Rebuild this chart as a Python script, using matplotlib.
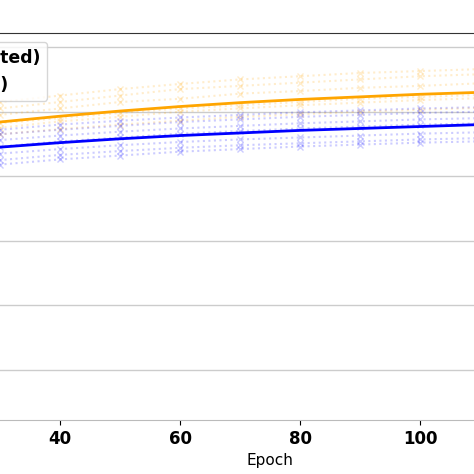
import matplotlib
matplotlib.use("Agg")
import matplotlib.pyplot as plt

epochs = [0, 10, 20, 30, 40, 50, 60, 70, 80, 90, 100, 110, 120, 130]
pred_mean = [0.845, 0.862, 0.875, 0.884, 0.893, 0.901, 0.908, 0.914, 0.919, 0.923, 0.927, 0.930, 0.932, 0.934]
act_mean = [0.800, 0.820, 0.835, 0.845, 0.852, 0.858, 0.863, 0.867, 0.871, 0.874, 0.877, 0.880, 0.882, 0.884]
pred_runs = [
    [0.86, 0.88, 0.895, 0.905, 0.915, 0.925, 0.935, 0.94, 0.945, 0.95, 0.955, 0.958, 0.96, 0.962],
    [0.85, 0.87, 0.885, 0.895, 0.905, 0.915, 0.92, 0.928, 0.932, 0.937, 0.94, 0.944, 0.947, 0.95],
    [0.83, 0.85, 0.865, 0.875, 0.885, 0.892, 0.9, 0.905, 0.91, 0.914, 0.918, 0.921, 0.924, 0.926],
    [0.82, 0.84, 0.855, 0.865, 0.873, 0.88, 0.886, 0.892, 0.896, 0.9, 0.903, 0.906, 0.908, 0.91],
    [0.87, 0.89, 0.905, 0.915, 0.925, 0.935, 0.943, 0.95, 0.955, 0.96, 0.963, 0.966, 0.968, 0.97],
    [0.84, 0.86, 0.872, 0.882, 0.89, 0.898, 0.905, 0.91, 0.915, 0.92, 0.923, 0.926, 0.928, 0.93],
]
act_runs = [
    [0.82, 0.84, 0.855, 0.865, 0.872, 0.878, 0.884, 0.888, 0.892, 0.895, 0.898, 0.9, 0.902, 0.904],
    [0.81, 0.83, 0.846, 0.856, 0.863, 0.869, 0.874, 0.878, 0.882, 0.885, 0.888, 0.89, 0.892, 0.894],
    [0.79, 0.81, 0.825, 0.835, 0.842, 0.848, 0.853, 0.857, 0.86, 0.863, 0.866, 0.868, 0.87, 0.872],
    [0.78, 0.80, 0.815, 0.825, 0.833, 0.839, 0.844, 0.848, 0.851, 0.854, 0.857, 0.859, 0.861, 0.863],
    [0.80, 0.82, 0.836, 0.846, 0.854, 0.86, 0.866, 0.87, 0.874, 0.877, 0.88, 0.882, 0.884, 0.886],
    [0.77, 0.79, 0.805, 0.818, 0.826, 0.832, 0.838, 0.842, 0.846, 0.849, 0.852, 0.854, 0.856, 0.858],
    [0.83, 0.85, 0.862, 0.872, 0.88, 0.886, 0.891, 0.895, 0.899, 0.902, 0.905, 0.907, 0.909, 0.911],
]
labels = ["Validation Accuracy (Predicted)", "Validation Accuracy (Actual)"]
xticks = [40, 60, 80, 100]

W = 474
fig = plt.figure(figsize=(W / 100, W / 100), dpi=100)
# axes extends beyond the visible figure (cropped view)
ax = fig.add_axes([-60 / W, 1 - 420 / W, 660 / W, (420 - 33) / W])
ax.set_xlim(20, 130)
ax.set_ylim(0.422, 1.022)

for r in pred_runs:
    ax.plot(epochs, r, color="orange", alpha=0.2, ls=":", marker="x", ms=5, lw=1.5)
for r in act_runs:
    ax.plot(epochs, r, color="blue", alpha=0.2, ls=":", marker="x", ms=5, lw=1.5)
ax.plot(epochs, pred_mean, color="orange", lw=2, label=labels[0])
ax.plot(epochs, act_mean, color="blue", lw=2, label=labels[1])

ax.set_yticks([0.5, 0.6, 0.7, 0.8, 0.9, 1.0])
ax.set_yticklabels([])
ax.tick_params(axis="y", length=0)
ax.grid(axis="y", color="#cccccc", lw=1)
ax.set_xticks(xticks)
ax.tick_params(axis="x", labelsize=12)
for t in ax.get_xticklabels():
    t.set_fontweight("bold")
ax.set_xlabel("Epoch", fontsize=11)
for s in ["left", "right"]:
    ax.spines[s].set_visible(False)
ax.spines["bottom"].set_color("#bbbbbb")
ax.spines["top"].set_color("#333333")

leg = ax.legend(loc="upper right", bbox_to_anchor=(47 / W, 1 - 42 / W),
                bbox_transform=fig.transFigure, borderaxespad=0,
                prop={"weight": "bold", "size": 12.5})
fig.savefig("out.png", dpi=100)
